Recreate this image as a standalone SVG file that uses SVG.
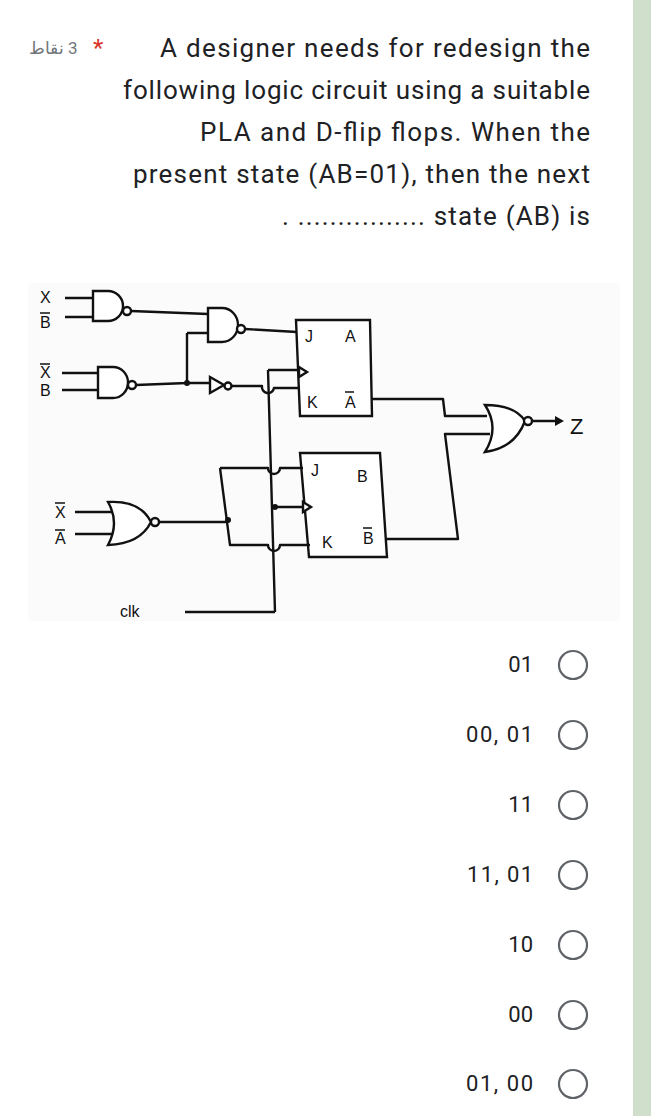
<svg xmlns="http://www.w3.org/2000/svg" width="651" height="1116" viewBox="0 0 651 1116">
<style>
.q{font-family:Roboto,"Noto Sans",sans-serif;font-size:26px;fill:#202124;text-anchor:end}
.o{font-family:Roboto,"Noto Sans",sans-serif;font-size:22px;fill:#202124;text-anchor:end}
.w{fill:none;stroke:#111;stroke-width:2.4;stroke-linejoin:round}
.g{fill:#fff;stroke:#111;stroke-width:2.4}
.h{font-family:"Liberation Sans",sans-serif;font-size:16px;fill:#111}
.r{fill:none;stroke:#5f6368;stroke-width:2.2}
</style>
<rect width="651" height="1116" fill="#fff"/>
<rect x="633" y="0" width="18" height="1116" fill="#cfdfcb"/>
<g id="header">
<text x="64" y="54" font-family="'Noto Sans',sans-serif" font-size="17" fill="#70757a" text-anchor="end">نقاط</text>
<text x="68" y="54" font-family="Roboto,sans-serif" font-size="17" fill="#70757a">3</text>
<text x="93" y="56" font-family="Roboto,sans-serif" font-size="24" fill="#d93025">*</text>
<text class="q" x="590" y="57" textLength="430" lengthAdjust="spacing">A designer needs for redesign the</text>
<text class="q" x="590" y="99" textLength="467" lengthAdjust="spacing">following logic circuit using a suitable</text>
<text class="q" x="590" y="141" textLength="390" lengthAdjust="spacing">PLA and D-flip flops. When the</text>
<text class="q" x="590" y="183" textLength="457" lengthAdjust="spacing">present state (AB=01), then the next</text>
<text class="q" x="590" y="225" textLength="308" lengthAdjust="spacing">. ................ state (AB) is</text>
</g>
<rect x="28" y="283" width="592" height="338" fill="#fbfbfb"/>
<g id="labels" class="h">
<text x="40" y="303">X</text><text x="40" y="328">B</text><line x1="40" y1="313" x2="50" y2="313" stroke="#111" stroke-width="1.5"/>
<text x="40" y="378">X</text><line x1="40" y1="364" x2="50" y2="364" stroke="#111" stroke-width="1.5"/><text x="40" y="396">B</text>
<text x="55" y="518">X</text><line x1="55" y1="503" x2="65" y2="503" stroke="#111" stroke-width="1.5"/>
<text x="55" y="544">A</text><line x1="55" y1="530" x2="65" y2="530" stroke="#111" stroke-width="1.5"/>
<text x="120" y="617">clk</text>
</g>
<g id="gate1"><path class="g" d="M93,291 H108 A15,15 0 0 1 108,321 H93 Z"/><circle class="g" cx="127" cy="311" r="4"/></g>
<g id="gate2"><path class="g" d="M208,308 H222 A16,17 0 0 1 222,342 H208 Z"/><circle class="g" cx="241" cy="329" r="4"/></g>
<g id="gate3"><path class="g" d="M98,367 H113 A15,15.5 0 0 1 113,398 H98 Z"/><circle class="g" cx="132" cy="385" r="4"/></g>
<g id="inv"><path class="g" d="M210,377 L224,385 L210,393 Z"/><circle class="g" cx="228" cy="386" r="3.5"/></g>
<g id="nor"><path class="g" d="M108,502 Q140,500 151,522 Q140,544 108,545 Q120,523 108,502 Z"/><circle class="g" cx="155" cy="522" r="4"/></g>
<g id="or"><path class="g" d="M485,405 Q515,405 525,421 Q515,448 485,452 Q500,428 485,405 Z"/><circle class="g" cx="528" cy="421" r="4"/></g>
<g id="ffA"><path class="g" d="M296,320 H370 L372,416 H300 Z"/>
<text class="h" x="305" y="342">J</text><text class="h" x="345" y="342">A</text>
<text class="h" x="307" y="408">K</text><text class="h" x="345" y="408">A</text><line x1="345" y1="392" x2="354" y2="392" stroke="#111" stroke-width="1.5"/>
<path class="g" d="M299,367 L307,372 L299,377 Z"/></g>
<g id="ffB"><path class="g" d="M300,453 H380 L387,557 H309 Z"/>
<text class="h" x="311" y="476">J</text><text class="h" x="357" y="482">B</text>
<text class="h" x="322" y="548">K</text><text class="h" x="363" y="544">B</text><line x1="363" y1="528" x2="372" y2="528" stroke="#111" stroke-width="1.5"/>
<path class="g" d="M303,502 L311,507 L303,512 Z"/></g>
<g id="connectors">
<path class="w" d="M65,298 H93 M65,317 H93 M131,311 L208,314 M245,329 L297,332 M187,333 H208 M187,333 V383 M136,385 L187,383 H210 M232,386 H262 A6,6 0 0 0 274,388 H300"/>
<path class="w" d="M62,373 H98 M62,390 H98"/>
<path class="w" d="M268,370 H299 M268,370 L275,612 M185,612 H275"/>
<path class="w" d="M75,512 H112 M75,534 H112 M159,522 H228 M220,468 H268 A6,6 0 0 0 280,468 H303 M220,468 L230,545 H268 A6,6 0 0 0 280,545 H310 M275,507 H303"/>
<path class="w" d="M372,399 H443 L445,416 H487 M386,539 H458 L445,434 H490 M532,421 H558"/>
<path d="M555,416 L564,421 L555,426 Z" fill="#111"/>
<circle cx="187" cy="383" r="3" fill="#111"/><circle cx="228" cy="520" r="3" fill="#111"/><circle cx="275" cy="507" r="3" fill="#111"/>
</g>
<text x="570" y="434" font-family="'Liberation Sans',sans-serif" font-size="22" fill="#111">Z</text>
<g id="options">
<text class="o" x="533" y="672">01</text><circle class="r" cx="573" cy="665" r="14"/>
<text class="o" x="533" y="742" textLength="67" lengthAdjust="spacing">00, 01</text><circle class="r" cx="573" cy="735" r="14"/>
<text class="o" x="533" y="812">11</text><circle class="r" cx="573" cy="805" r="14"/>
<text class="o" x="533" y="882" textLength="66" lengthAdjust="spacing">11, 01</text><circle class="r" cx="573" cy="875" r="14"/>
<text class="o" x="533" y="952">10</text><circle class="r" cx="573" cy="945" r="14"/>
<text class="o" x="533" y="1022">00</text><circle class="r" cx="573" cy="1015" r="14"/>
<text class="o" x="533" y="1091" textLength="67" lengthAdjust="spacing">01, 00</text><circle class="r" cx="573" cy="1084" r="14"/>
</g>
</svg>
